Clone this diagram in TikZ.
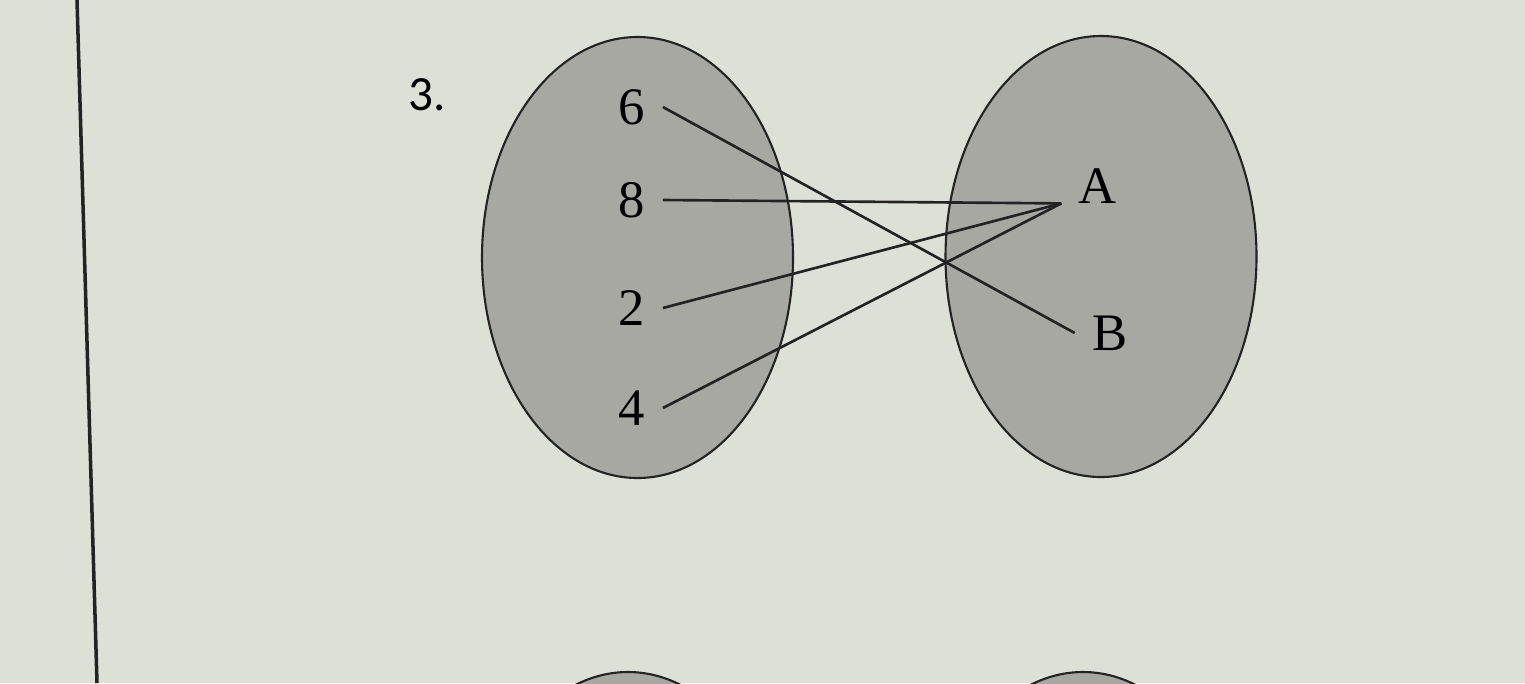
\documentclass[tikz,border=0pt]{standalone}
\usepackage{fontspec}
\setmainfont{Liberation Serif}
\newfontfamily\numfont{Carlito}
\usetikzlibrary{shapes.geometric}
\usetikzlibrary{positioning}

\definecolor{paper}{RGB}{221,224,214}
\definecolor{setgray}{RGB}{168,168,162}
\definecolor{inkline}{RGB}{35,35,35}

\begin{document}
\begin{tikzpicture}[
        setshape/.style={ellipse, draw=inkline, line width=0.6pt, fill=setgray,
            minimum width=3.11cm, minimum height=4.41cm, inner sep=0pt},
        elem/.style={font=\fontsize{15}{15}\selectfont, inner sep=0.17cm},
        mapline/.style={draw=inkline, line width=0.75pt}
    ]
        \clip (0,0) rectangle (15.25,6.83);
        \fill[paper] (0,0) rectangle (15.25,6.83);
        % margin rule
        \draw[inkline, line width=1pt] (0.77,6.83) -- (0.97,0);
        \node[font=\numfont\fontsize{14}{14}\selectfont] (num) at (4.27,5.88) {3.};

        % the two sets
        \node[setshape] (domain) at (6.375,4.255) {};
        \node[setshape] (range) at (11.01,4.265) {};
        % next exercise, cut off
        \node[setshape] (nextL) at (6.28,-2.095) {};
        \node[setshape] (nextR) at (10.83,-2.095) {};

        \node[elem] (six) at (6.32,5.76) {6};
        \node[elem] (eight) at (6.32,4.83) {8};
        \node[elem] (two) at (6.32,3.75) {2};
        \node[elem] (four) at (6.32,2.75) {4};
        \node[elem] (A) at (10.98,4.97) {A};
        \node[elem] (B) at (11.10,3.50) {B};

        \draw[mapline] (six.east) -- (B.west);
        \draw[mapline] (eight.east) -- (A.base west);
        \draw[mapline] (two.east) -- (A.base west);
        \draw[mapline] (four.east) -- (A.base west);
    \end{tikzpicture}
\end{document}
